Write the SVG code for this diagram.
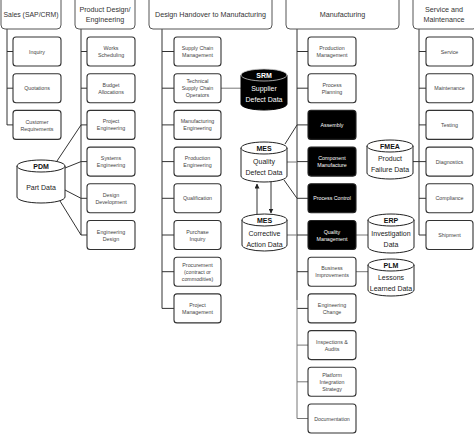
<svg xmlns="http://www.w3.org/2000/svg" width="474" height="436" viewBox="0 0 474 436">
<defs>
<style>
.hdr{fill:#fff;stroke:#555;stroke-width:1}
.ht{font-family:"Liberation Sans",Arial,sans-serif;font-size:7.2px;fill:#333;text-anchor:middle}
.box{fill:#fff;stroke:#333;stroke-width:1.1}
.bbox{fill:#000;stroke:#222;stroke-width:1.1}
.bt{font-family:"Liberation Sans",Arial,sans-serif;font-size:5.3px;fill:#444;text-anchor:middle}
.wt{font-family:"Liberation Sans",Arial,sans-serif;font-size:5.3px;fill:#fff;text-anchor:middle}
.cyl{fill:#fff;stroke:#222;stroke-width:1}
.cylb{fill:#000;stroke:#000;stroke-width:1}
.ct{font-family:"Liberation Sans",Arial,sans-serif;font-size:7px;fill:#222;text-anchor:middle}
.cb{font-family:"Liberation Sans",Arial,sans-serif;font-size:7px;font-weight:bold;fill:#111;text-anchor:middle}
.ln{stroke:#333;stroke-width:1;fill:none}
.lg{stroke:#777;stroke-width:1;fill:none}
</style>
<marker id="ah" viewBox="0 0 10 10" refX="9" refY="5" markerWidth="5" markerHeight="5" orient="auto">
<path d="M0,0 L10,5 L0,10 z" fill="#222"/>
</marker>
</defs>
<rect width="474" height="436" fill="#fff"/>

<g id="connectors">
<path class="ln" d="M7,29 V125 M7,51.5 H13 M7,88.2 H13 M7,124.9 H13"/>
<path class="ln" d="M81,29 V235 M81,51.5 H87 M81,88.2 H87 M81,124.9 H87 M81,161.6 H87 M81,198.3 H87 M81,235 H87"/>
<path class="ln" d="M162,29 V308.4 M162,51.5 H174 M162,88.2 H174 M162,124.9 H174 M162,161.6 H174 M162,198.3 H174 M162,235 H174 M162,271.7 H174 M162,308.4 H174"/>
<path class="ln" d="M297,29 V300 M297,51.5 H308 M297,88.2 H308 M297,124.9 H308 M297,161.6 H308 M297,198.3 H308 M297,235 H308 M297,271.7 H308 M297,308.4 H308"/>
<path class="lg" d="M297,300 V418.5 M297,345.1 H308 M297,381.8 H308 M297,418.5 H308"/>
<path class="ln" d="M419,29 V235 M419,51.5 H426 M419,88.2 H426 M419,124.9 H426 M419,161.6 H426 M419,198.3 H426 M419,235 H426"/>
<path class="ln" d="M57,161 L81,125 M65,168 L81,161.6 M65,190 L81,198.3 M60,201 L81,235"/>
<path class="lg" d="M221,88.2 H241"/>
<path class="ln" d="M285,144 L297,125 M284,180 L297,198.3"/>
<path class="lg" d="M287,162 H297"/>
<line class="ln" x1="257" y1="214" x2="257" y2="184" marker-end="url(#ah)"/>
<line class="ln" x1="271" y1="182" x2="271" y2="213" marker-end="url(#ah)"/>
<path class="lg" d="M287,235 H297"/>
<path class="ln" d="M413,161.6 H419"/>
<path class="lg" d="M356,235 H368 M356,271.7 H368"/>
</g>

<g id="h-sales"><rect class="hdr" x="1" y="-6" width="60" height="35" rx="4"/><text class="ht" x="31" y="17" textLength="55" lengthAdjust="spacingAndGlyphs">Sales (SAP/CRM)</text></g>
<g id="h-design"><rect class="hdr" x="75" y="-6" width="60" height="35" rx="4"/><text class="ht" x="105" y="12">Product Design/</text><text class="ht" x="105" y="22">Engineering</text></g>
<g id="h-handover"><rect class="hdr" x="149" y="-6" width="123" height="35" rx="4"/><text class="ht" x="210.5" y="17">Design Handover to Manufacturing</text></g>
<g id="h-mfg"><rect class="hdr" x="286" y="-6" width="113" height="35" rx="4"/><text class="ht" x="342.5" y="17">Manufacturing</text></g>
<g id="h-service"><rect class="hdr" x="413" y="-6" width="64" height="35" rx="4"/><text class="ht" x="444" y="12">Service and</text><text class="ht" x="444" y="22">Maintenance</text></g>

<g id="inquiry"><rect class="box" x="13" y="37" width="48" height="29" rx="3"/><text class="bt" x="37" y="53.5">Inquiry</text></g>
<g id="quotations"><rect class="box" x="13" y="73.7" width="48" height="29" rx="3"/><text class="bt" x="37" y="90.2">Quotations</text></g>
<g id="customer-req"><rect class="box" x="13" y="110.4" width="48" height="29" rx="3"/><text class="bt" x="37" y="123.5">Customer</text><text class="bt" x="37" y="130.5">Requirements</text></g>

<g id="works-sched"><rect class="box" x="87" y="37" width="48" height="29" rx="3"/><text class="bt" x="111" y="50">Works</text><text class="bt" x="111" y="57">Scheduling</text></g>
<g id="budget"><rect class="box" x="87" y="73.7" width="48" height="29" rx="3"/><text class="bt" x="111" y="86.7">Budget</text><text class="bt" x="111" y="93.7">Allocations</text></g>
<g id="project-eng"><rect class="box" x="87" y="110.4" width="48" height="29" rx="3"/><text class="bt" x="111" y="123.4">Project</text><text class="bt" x="111" y="130.4">Engineering</text></g>
<g id="systems-eng"><rect class="box" x="87" y="147.1" width="48" height="29" rx="3"/><text class="bt" x="111" y="160.1">Systems</text><text class="bt" x="111" y="167.1">Engineering</text></g>
<g id="design-dev"><rect class="box" x="87" y="183.8" width="48" height="29" rx="3"/><text class="bt" x="111" y="196.8">Design</text><text class="bt" x="111" y="203.8">Development</text></g>
<g id="eng-design"><rect class="box" x="87" y="220.5" width="48" height="29" rx="3"/><text class="bt" x="111" y="233.5">Engineering</text><text class="bt" x="111" y="240.5">Design</text></g>

<g id="scm"><rect class="box" x="174" y="37" width="47" height="29" rx="3"/><text class="bt" x="197.5" y="50">Supply Chain</text><text class="bt" x="197.5" y="57">Management</text></g>
<g id="tsco"><rect class="box" x="174" y="73.7" width="47" height="29" rx="3"/><text class="bt" x="197.5" y="83.2">Technical</text><text class="bt" x="197.5" y="90.2">Supply Chain</text><text class="bt" x="197.5" y="97.2">Operators</text></g>
<g id="mfg-eng"><rect class="box" x="174" y="110.4" width="47" height="29" rx="3"/><text class="bt" x="197.5" y="123.4">Manufacturing</text><text class="bt" x="197.5" y="130.4">Engineering</text></g>
<g id="prod-eng"><rect class="box" x="174" y="147.1" width="47" height="29" rx="3"/><text class="bt" x="197.5" y="160.1">Production</text><text class="bt" x="197.5" y="167.1">Engineering</text></g>
<g id="qualification"><rect class="box" x="174" y="183.8" width="47" height="29" rx="3"/><text class="bt" x="197.5" y="200.3">Qualification</text></g>
<g id="purchase"><rect class="box" x="174" y="220.5" width="47" height="29" rx="3"/><text class="bt" x="197.5" y="233.5">Purchase</text><text class="bt" x="197.5" y="240.5">Inquiry</text></g>
<g id="procurement"><rect class="box" x="174" y="257.2" width="47" height="29" rx="3"/><text class="bt" x="197.5" y="266.7">Procurement</text><text class="bt" x="197.5" y="273.7">(contract or</text><text class="bt" x="197.5" y="280.7">commodities)</text></g>
<g id="project-mgmt"><rect class="box" x="174" y="293.9" width="47" height="29" rx="3"/><text class="bt" x="197.5" y="306.9">Project</text><text class="bt" x="197.5" y="313.9">Management</text></g>

<g id="prod-mgmt"><rect class="box" x="308" y="37" width="48" height="29" rx="3"/><text class="bt" x="332" y="50">Production</text><text class="bt" x="332" y="57">Management</text></g>
<g id="process-planning"><rect class="box" x="308" y="73.7" width="48" height="29" rx="3"/><text class="bt" x="332" y="86.7">Process</text><text class="bt" x="332" y="93.7">Planning</text></g>
<g id="assembly"><rect class="bbox" x="308" y="110.4" width="48" height="29" rx="3"/><text class="wt" x="332" y="126.9">Assembly</text></g>
<g id="component"><rect class="bbox" x="308" y="147.1" width="48" height="29" rx="3"/><text class="wt" x="332" y="160.1">Component</text><text class="wt" x="332" y="167.1">Manufacture</text></g>
<g id="process-control"><rect class="bbox" x="308" y="183.8" width="48" height="29" rx="3"/><text class="wt" x="332" y="200.3">Process Control</text></g>
<g id="quality-mgmt"><rect class="bbox" x="308" y="220.5" width="48" height="29" rx="3"/><text class="wt" x="332" y="233.5">Quality</text><text class="wt" x="332" y="240.5">Management</text></g>
<g id="business-imp"><rect class="box" x="308" y="257.2" width="48" height="29" rx="3"/><text class="bt" x="332" y="270.2">Business</text><text class="bt" x="332" y="277.2">Improvements</text></g>
<g id="eng-change"><rect class="box" x="308" y="293.9" width="48" height="29" rx="3"/><text class="bt" x="332" y="306.9">Engineering</text><text class="bt" x="332" y="313.9">Change</text></g>
<g id="inspections"><rect class="box" x="308" y="330.6" width="48" height="29" rx="3"/><text class="bt" x="332" y="343.6">Inspections &amp;</text><text class="bt" x="332" y="350.6">Audits</text></g>
<g id="platform"><rect class="box" x="308" y="367.3" width="48" height="29" rx="3"/><text class="bt" x="332" y="376.8">Platform</text><text class="bt" x="332" y="383.8">Integration</text><text class="bt" x="332" y="390.8">Strategy</text></g>
<g id="documentation"><rect class="box" x="308" y="404" width="48" height="29" rx="3"/><text class="bt" x="332" y="420.5">Documentation</text></g>

<g id="service"><rect class="box" x="426" y="37" width="47" height="29" rx="3"/><text class="bt" x="449.5" y="53.5">Service</text></g>
<g id="maintenance"><rect class="box" x="426" y="73.7" width="47" height="29" rx="3"/><text class="bt" x="449.5" y="90.2">Maintenance</text></g>
<g id="testing"><rect class="box" x="426" y="110.4" width="47" height="29" rx="3"/><text class="bt" x="449.5" y="126.9">Testing</text></g>
<g id="diagnostics"><rect class="box" x="426" y="147.1" width="47" height="29" rx="3"/><text class="bt" x="449.5" y="163.6">Diagnostics</text></g>
<g id="compliance"><rect class="box" x="426" y="183.8" width="47" height="29" rx="3"/><text class="bt" x="449.5" y="200.3">Compliance</text></g>
<g id="shipment"><rect class="box" x="426" y="220.5" width="47" height="29" rx="3"/><text class="bt" x="449.5" y="237">Shipment</text></g>

<g id="pdm">
<path class="cyl" d="M17,166 V197 A24,6 0 0 0 65,197 V166"/>
<ellipse class="cyl" cx="41" cy="166" rx="24" ry="6"/>
<text class="cb" x="41" y="168.5" font-size="6.5">PDM</text>
<text class="ct" x="41" y="190" font-size="6.5">Part Data</text>
</g>
<g id="srm">
<path class="cylb" d="M241,75 V104 A23,6 0 0 0 287,104 V75"/>
<ellipse cx="264" cy="75" rx="23" ry="6" fill="#000" stroke="#ccc" stroke-width="0.8"/>
<text class="cb" x="264" y="78" style="fill:#fff">SRM</text>
<text class="ct" x="264" y="91" style="fill:#fff">Supplier</text>
<text class="ct" x="264" y="102" style="fill:#fff">Defect Data</text>
</g>
<g id="mes-quality">
<path class="cyl" d="M241,148 V176 A23,6 0 0 0 287,176 V148"/>
<ellipse class="cyl" cx="264" cy="148" rx="23" ry="6"/>
<text class="cb" x="264" y="151">MES</text>
<text class="ct" x="264" y="164">Quality</text>
<text class="ct" x="264" y="175">Defect Data</text>
</g>
<g id="mes-corrective">
<path class="cyl" d="M242,220 V245 A22.5,6 0 0 0 287,245 V220"/>
<ellipse class="cyl" cx="264.5" cy="220" rx="22.5" ry="6"/>
<text class="cb" x="264.5" y="223">MES</text>
<text class="ct" x="264.5" y="236">Corrective</text>
<text class="ct" x="264.5" y="247">Action Data</text>
</g>
<g id="fmea">
<path class="cyl" d="M367,146 V173 A23,6 0 0 0 413,173 V146"/>
<ellipse class="cyl" cx="390" cy="146" rx="23" ry="6"/>
<text class="cb" x="390" y="148.5">FMEA</text>
<text class="ct" x="390" y="161">Product</text>
<text class="ct" x="390" y="172">Failure Data</text>
</g>
<g id="erp">
<path class="cyl" d="M368,220 V247 A23,6 0 0 0 414,247 V220"/>
<ellipse class="cyl" cx="391" cy="220" rx="23" ry="6"/>
<text class="cb" x="391" y="222.5">ERP</text>
<text class="ct" x="391" y="236">Investigation</text>
<text class="ct" x="391" y="247">Data</text>
</g>
<g id="plm">
<path class="cyl" d="M368,265 V290 A23,6 0 0 0 414,290 V265"/>
<ellipse class="cyl" cx="391" cy="265" rx="23" ry="6"/>
<text class="cb" x="391" y="267.5">PLM</text>
<text class="ct" x="391" y="280">Lessons</text>
<text class="ct" x="391" y="291">Learned Data</text>
</g>
</svg>
